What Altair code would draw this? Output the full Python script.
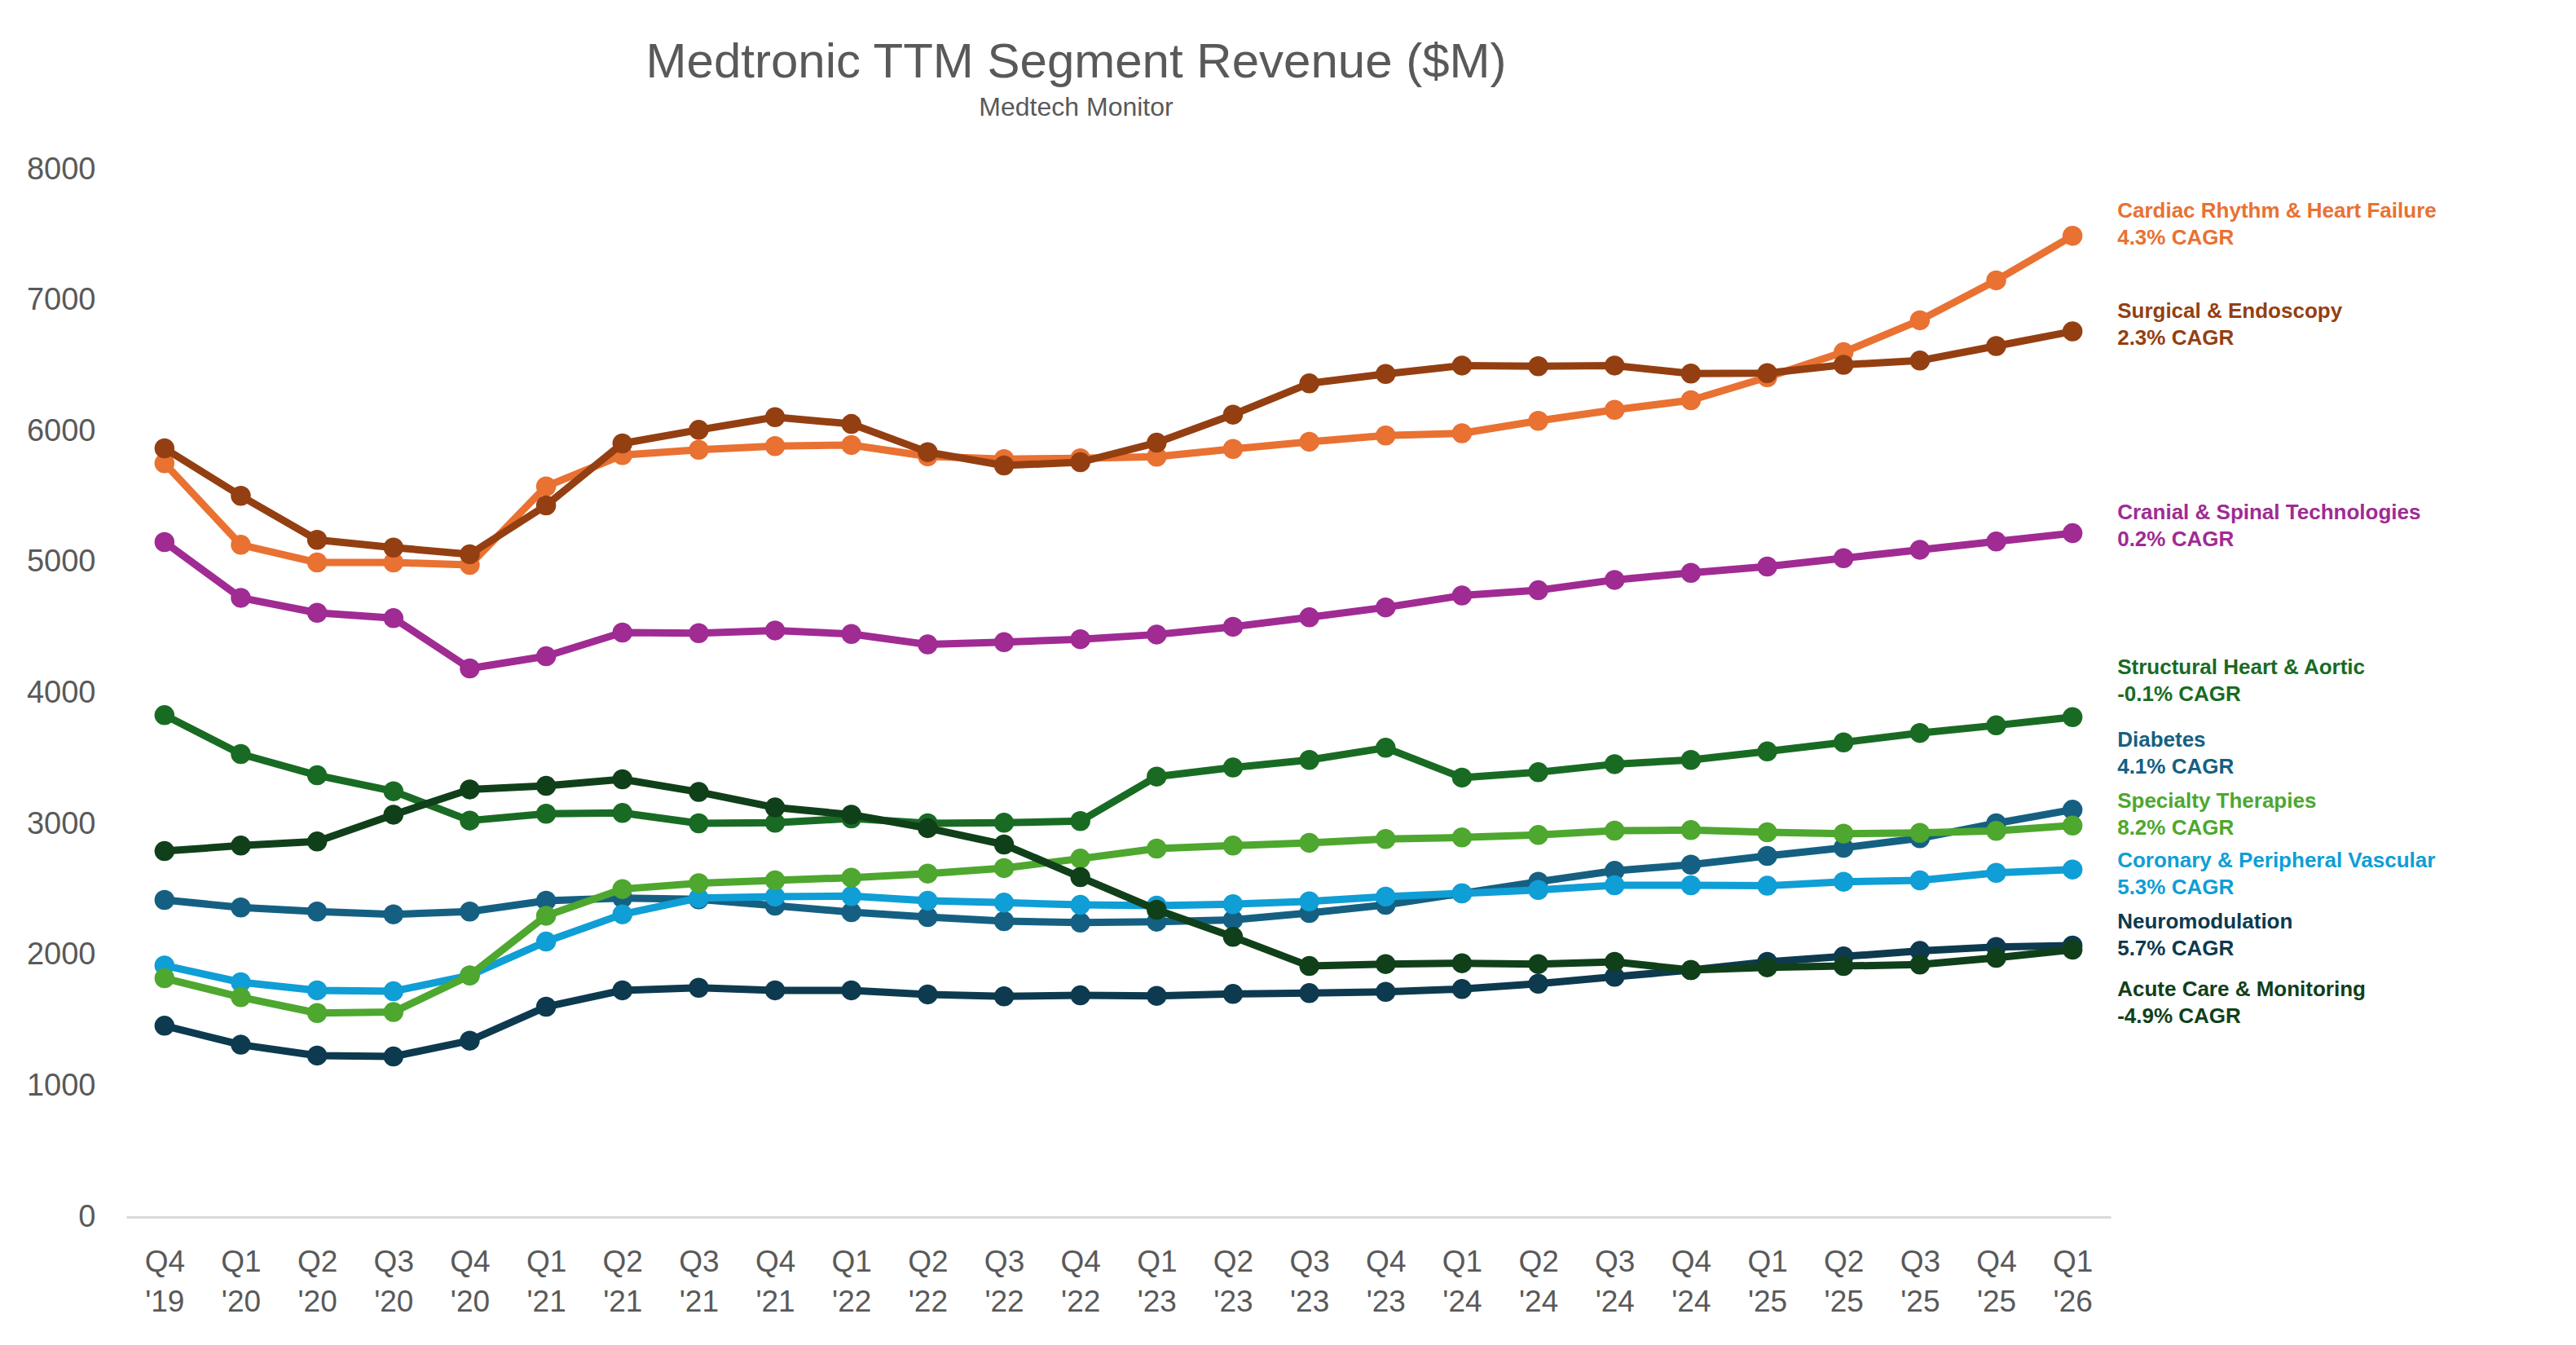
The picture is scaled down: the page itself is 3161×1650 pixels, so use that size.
import altair as alt
import pandas as pd

quarters = ["Q4 '19", "Q1 '20", "Q2 '20", "Q3 '20", "Q4 '20", "Q1 '21", "Q2 '21", "Q3 '21",
            "Q4 '21", "Q1 '22", "Q2 '22", "Q3 '22", "Q4 '22", "Q1 '23", "Q2 '23", "Q3 '23",
            "Q4 '23", "Q1 '24", "Q2 '24", "Q3 '24", "Q4 '24", "Q1 '25", "Q2 '25", "Q3 '25",
            "Q4 '25", "Q1 '26"]

cardiac = [5757, 5134, 4999, 4999, 4980, 5580, 5819, 5860, 5888, 5896, 5810, 5789, 5795,
           5807, 5866, 5921, 5969, 5986, 6081, 6165, 6238, 6414, 6605, 6849, 7154, 7494]
surgical = [5871, 5508, 5172, 5113, 5062, 5435, 5908, 6012, 6109, 6057, 5842, 5740, 5765,
            5914, 6128, 6367, 6439, 6503, 6498, 6503, 6442, 6445, 6509, 6541, 6652, 6764]
cranial = [5155, 4729, 4615, 4574, 4190, 4283, 4464, 4459, 4480, 4453, 4373, 4390, 4413,
           4449, 4508, 4580, 4656, 4747, 4787, 4866, 4920, 4968, 5032, 5096, 5159, 5223]
structural = [3833, 3536, 3374, 3252, 3028, 3080, 3086, 3007, 3011, 3044, 3007, 3011, 3024,
              3364, 3433, 3491, 3584, 3356, 3397, 3459, 3491, 3556, 3625, 3697, 3755, 3818]
diabetes = [2422, 2364, 2333, 2312, 2333, 2416, 2436, 2426, 2378, 2328, 2291, 2260, 2249,
            2256, 2270, 2322, 2384, 2472, 2561, 2644, 2691, 2758, 2820, 2893, 3007, 3111]
specialty = [1824, 1679, 1558, 1565, 1845, 2301, 2505, 2550, 2571, 2592, 2623, 2665, 2737,
             2814, 2837, 2858, 2887, 2899, 2918, 2951, 2955, 2938, 2928, 2934, 2949, 2990]
coronary = [1921, 1793, 1731, 1724, 1845, 2104, 2312, 2436, 2447, 2451, 2416, 2401, 2384,
            2378, 2389, 2411, 2447, 2472, 2498, 2534, 2534, 2530, 2561, 2571, 2629, 2654]
neuromod = [1461, 1316, 1233, 1226, 1347, 1606, 1731, 1751, 1731, 1731, 1700, 1685, 1693,
            1689, 1704, 1710, 1720, 1741, 1782, 1835, 1886, 1949, 1990, 2032, 2063, 2073]
acute = [2795, 2837, 2868, 3073, 3266, 3293, 3343, 3246, 3128, 3073, 2970, 2845, 2596,
         2347, 2140, 1917, 1932, 1938, 1932, 1949, 1886, 1907, 1917, 1928, 1980, 2042]

# drawing order (later = on top)
segments = ["Cardiac Rhythm & Heart Failure", "Surgical & Endoscopy", "Cranial & Spinal Technologies",
            "Structural Heart & Aortic", "Diabetes", "Coronary & Peripheral Vascular",
            "Specialty Therapies", "Neuromodulation", "Acute Care & Monitoring"]
series = [cardiac, surgical, cranial, structural, diabetes, coronary, specialty, neuromod, acute]
cagr = ["4.3% CAGR", "2.3% CAGR", "0.2% CAGR", "-0.1% CAGR", "4.1% CAGR", "5.3% CAGR",
        "8.2% CAGR", "5.7% CAGR", "-4.9% CAGR"]
colors = ["#E97132", "#943F12", "#A02B93", "#196B24", "#156082", "#0F9ED5",
          "#4EA72E", "#0D3A4F", "#10401A"]
# vertical anchor (in $M) of the centre of each two-line end label
label_anchor = [7581, 6815, 5275, 4096, 3539, 2616, 3072, 2152, 1634]

rows = []
for seg, vals in zip(segments, series):
    for q, v in zip(quarters, vals):
        rows.append({"quarter": q, "segment": seg, "value": v})
df = pd.DataFrame(rows)

lab_df = pd.DataFrame({
    "segment": segments,
    "label": [f"{s}\n{c}" for s, c in zip(segments, cagr)],
    "anchor": label_anchor,
    "quarter": [quarters[-1]] * len(segments),
})

AX_FONT = "Liberation Sans"
GREY = "#595959"

x_enc = alt.X("quarter:O", sort=quarters,
              scale=alt.Scale(type="point", padding=0.5),
              axis=alt.Axis(title=None, labelAngle=0, labelExpr="split(datum.label, ' ')",
                            labelFont=AX_FONT, labelFontSize=37, labelColor=GREY,
                            labelLineHeight=49, labelPadding=37, ticks=False, tickSize=0,
                            domain=True, domainColor="#D9D9D9", domainWidth=3,
                            grid=False, labelBaseline="top"))
y_axis = alt.Axis(title=None, values=[0, 1000, 2000, 3000, 4000, 5000, 6000, 7000, 8000],
                  labelFont=AX_FONT, labelFontSize=38, labelColor=GREY, labelPadding=38,
                  ticks=False, tickSize=0, domain=False, grid=False, format="d")
y_scale = alt.Scale(domain=[0, 8000], nice=False, zero=True)

layers = []
for seg, col in zip(segments, colors):
    base = alt.Chart(df).transform_filter(alt.datum.segment == seg)
    line = base.mark_line(strokeWidth=9, color=col, strokeJoin="round").encode(
        x=x_enc, y=alt.Y("value:Q", scale=y_scale, axis=y_axis))
    pts = base.mark_circle(size=600, opacity=1, color=col).encode(
        x=x_enc, y=alt.Y("value:Q", scale=y_scale, axis=y_axis))
    layers += [line, pts]

labels = alt.Chart(lab_df).mark_text(
    align="left", baseline="middle", dx=55, dy=-16.5, font=AX_FONT, fontSize=26,
    fontWeight="bold", lineBreak="\n", lineHeight=33
).encode(
    x=x_enc,
    y=alt.Y("anchor:Q", scale=y_scale, axis=y_axis),
    text=alt.Text("label:N"),
    color=alt.Color("segment:N", scale=alt.Scale(domain=segments, range=colors), legend=None),
)
layers.append(labels)

chart = alt.layer(*layers).properties(
    width=2435, height=1285,
    autosize=alt.AutoSizeParams(type="none"),
    padding={"left": 155, "top": 208, "right": 571, "bottom": 157},
    title=alt.TitleParams(
        text="Medtronic TTM Segment Revenue ($M)", subtitle="Medtech Monitor",
        anchor="middle", frame="group", dx=-52, offset=40,
        font=AX_FONT, fontSize=60, fontWeight="normal", color=GREY,
        subtitleFont=AX_FONT, subtitleFontSize=32, subtitleColor=GREY, subtitlePadding=9,
    ),
    background="white",
).configure_view(stroke=None)

chart.save("out.html", embed_options={"renderer": "svg", "actions": False})
